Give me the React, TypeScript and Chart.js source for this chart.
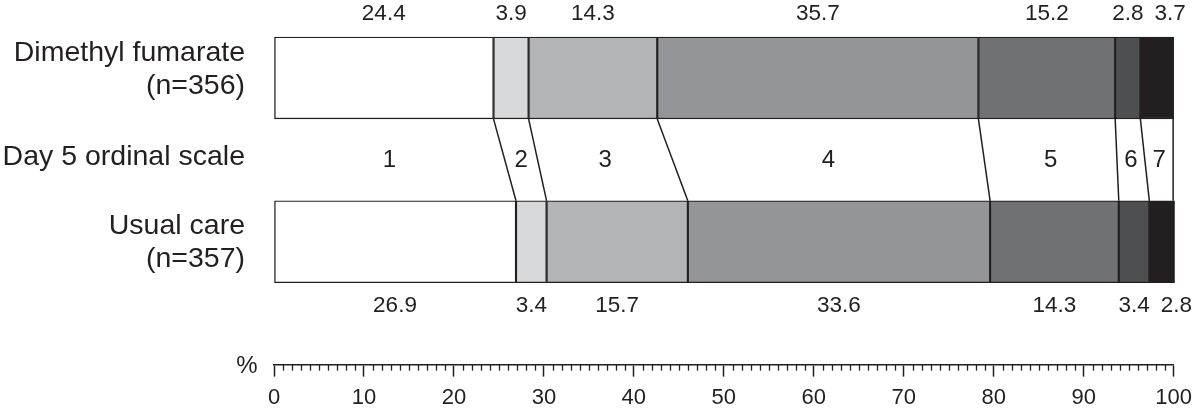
import { useEffect, useRef } from "react";
import { Chart, registerables } from "chart.js";

Chart.register(...registerables);

// ---- data ----
const rowKeys = ["Dimethyl fumarate", "Day 5 ordinal scale", "Usual care", ""];
const rowLabelLines = [["Dimethyl fumarate", "(n=356)"], ["Day 5 ordinal scale"], ["Usual care", "(n=357)"], []];
const ordinalCategories = ["1", "2", "3", "4", "5", "6", "7"];
const dimethylFumarate = [24.4, 3.9, 14.3, 35.7, 15.2, 2.8, 3.7];
const usualCare = [26.9, 3.4, 15.7, 33.6, 14.3, 3.4, 2.8];
const axisUnit = "%";

// ---- styles ----
const INK = "#231f20";
const FONT = "'Liberation Sans', Arial, Helvetica, sans-serif";
const segmentColors = ["#ffffff", "#d8d9db", "#b3b4b7", "#939598", "#707174", "#4e4f51", "#231f20"];

const overlayPlugin = {
  id: "overlay",
  afterDraw(chart: any) {
    const ctx: CanvasRenderingContext2D = chart.ctx;
    const xs = chart.scales.x;
    const ys = chart.scales.y;
    const rowH = ys.getPixelForValue(1) - ys.getPixelForValue(0);
    const topBarTop = ys.getPixelForValue(0) - rowH / 2;
    const topBarBottom = ys.getPixelForValue(0) + rowH / 2;
    const botBarTop = ys.getPixelForValue(2) - rowH / 2;
    const botBarBottom = ys.getPixelForValue(2) + rowH / 2;
    const midY = ys.getPixelForValue(1);

    ctx.save();
    // connector lines
    ctx.strokeStyle = INK;
    ctx.lineWidth = 1.5;
    let c1 = 0;
    let c2 = 0;
    const mids: number[] = [];
    for (let i = 0; i < ordinalCategories.length; i++) {
      const s1 = c1;
      const s2 = c2;
      c1 += dimethylFumarate[i];
      c2 += usualCare[i];
      mids.push(((s1 + c1) / 2 + (s2 + Math.min(c2, 100)) / 2) / 2);
      if (i < ordinalCategories.length - 1) {
        ctx.beginPath();
        ctx.moveTo(xs.getPixelForValue(c1), topBarBottom);
        ctx.lineTo(xs.getPixelForValue(c2), botBarTop);
        ctx.stroke();
      }
    }
    const xEnd = xs.getPixelForValue(100);
    ctx.beginPath();
    ctx.moveTo(xEnd - 0.5, topBarBottom);
    ctx.lineTo(xEnd - 0.5, botBarTop);
    ctx.stroke();

    // ordinal numbers in the middle band
    ctx.fillStyle = INK;
    ctx.textAlign = "center";
    ctx.textBaseline = "middle";
    ctx.font = `24px ${FONT}`;
    ordinalCategories.forEach((c, i) => {
      ctx.fillText(c, xs.getPixelForValue(mids[i]), midY + 1);
    });

    // value labels
    ctx.font = `22.5px ${FONT}`;
    const drawValues = (vals: number[], yPix: number) => {
      let cum = 0;
      let prevRight = -Infinity;
      vals.forEach((v) => {
        const text = v.toFixed(1);
        const w = ctx.measureText(text).width;
        let cx = xs.getPixelForValue(cum + v / 2);
        if (cx - w / 2 < prevRight + 11) cx = prevRight + 11 + w / 2;
        ctx.fillText(text, cx, yPix);
        prevRight = cx + w / 2;
        cum += v;
      });
    };
    drawValues(dimethylFumarate, topBarTop - 23.5);
    drawValues(usualCare, botBarBottom + 23);

    // row labels
    ctx.textAlign = "right";
    ctx.font = `28.5px ${FONT}`;
    const labelX = chart.chartArea.left - 29;
    const shifts = [-8, -3, 1, 0];
    const lh = 33;
    rowLabelLines.forEach((lines, r) => {
      const cy = ys.getPixelForValue(r) + shifts[r];
      const n = lines.length;
      lines.forEach((t, k) => {
        ctx.fillText(t, labelX, cy + (k - (n - 1) / 2) * lh);
      });
    });

    // minor ticks
    const axisY = chart.chartArea.bottom;
    ctx.lineWidth = 1.3;
    for (let v = 1; v < 100; v++) {
      if (v % 10 === 0) continue;
      const px = Math.round(xs.getPixelForValue(v)) + 0.5;
      ctx.beginPath();
      ctx.moveTo(px, axisY);
      ctx.lineTo(px, axisY + 6);
      ctx.stroke();
    }

    // unit label
    ctx.textAlign = "center";
    ctx.font = `24px ${FONT}`;
    ctx.fillText(axisUnit, xs.getPixelForValue(0) - 27, axisY + 2);
    ctx.restore();
  },
};

export default function App() {
  const ref = useRef<HTMLCanvasElement>(null);
  useEffect(() => {
    if (!ref.current) return;
    const datasets = ordinalCategories.map((c, i) => ({
      label: c,
      data: [dimethylFumarate[i], null, usualCare[i], null],
      backgroundColor: segmentColors[i],
      borderColor: INK,
      borderWidth: 1.4,
      borderSkipped: false as const,
      barPercentage: 1,
      categoryPercentage: 1,
      clip: false as any,
    }));
    const chart = new Chart(ref.current, {
      type: "bar",
      data: { labels: rowKeys, datasets },
      options: {
        responsive: false,
        devicePixelRatio: 1,
        animation: false,
        indexAxis: "y",
        layout: { padding: { left: 274, top: 37, right: 21, bottom: 0 } },
        plugins: { legend: { display: false }, tooltip: { enabled: false } },
        scales: {
          x: {
            type: "linear",
            stacked: true,
            min: 0,
            max: 100,
            ticks: {
              stepSize: 10,
              padding: 8,
              color: INK,
              font: { family: FONT, size: 22 },
              maxRotation: 0,
              autoSkip: false,
            },
            grid: {
              display: true,
              drawOnChartArea: false,
              drawTicks: true,
              tickLength: 12,
              tickColor: INK,
              tickWidth: 1.5,
            },
            border: { display: true, color: INK, width: 1.5 },
          },
          y: {
            type: "category",
            stacked: true,
            display: false,
            offset: true,
          },
        },
      },
      plugins: [overlayPlugin],
    });
    return () => chart.destroy();
  }, []);
  return (
    <div style={{ position: "fixed", left: 0, top: 0, width: 1200, height: 419, background: "#fff" }}>
      <canvas ref={ref} width={1200} height={419} style={{ display: "block" }} />
    </div>
  );
}
